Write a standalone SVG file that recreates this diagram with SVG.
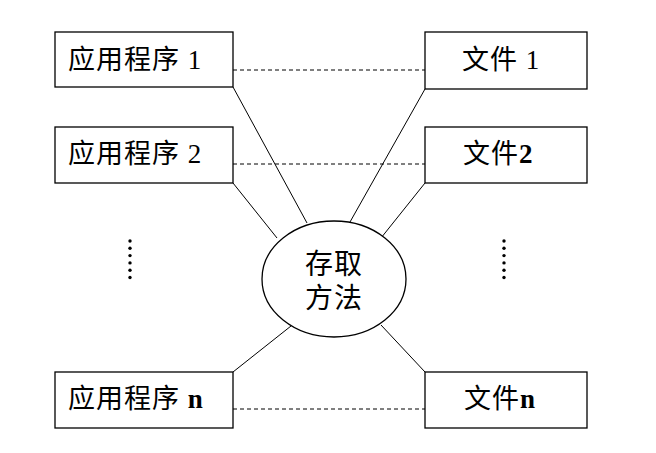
<svg xmlns="http://www.w3.org/2000/svg" width="656" height="453" viewBox="0 0 656 453">
<style>
.box{fill:#fff;stroke:#000;stroke-width:1.3}
.ln{stroke:#000;stroke-width:1;fill:none}
.dash{stroke:#000;stroke-width:1;stroke-dasharray:4 3;fill:none}
.t{font-family:"Liberation Serif","Noto Sans CJK SC",serif;font-size:27px;letter-spacing:1px;fill:#000}
.c{font-size:28px}
.b{font-weight:bold}
.dot{fill:#000}
</style>
<rect width="656" height="453" fill="#fff"/>
<g id="connectors">
<line class="dash" x1="233" y1="70" x2="425" y2="70"/>
<line class="dash" x1="233" y1="164" x2="425" y2="164"/>
<line class="dash" x1="233" y1="409" x2="425" y2="409"/>
<line class="ln" x1="233" y1="87" x2="307" y2="223"/>
<line class="ln" x1="233" y1="183" x2="277" y2="238"/>
<line class="ln" x1="425" y1="89" x2="350" y2="222"/>
<line class="ln" x1="425" y1="183" x2="381" y2="238"/>
<line class="ln" x1="233" y1="372" x2="291" y2="326"/>
<line class="ln" x1="425" y1="372" x2="381" y2="325"/>
</g>
<g id="app1"><rect class="box" x="55" y="32" width="178" height="55"/><text class="t" x="68" y="69">应用程序 1</text></g>
<g id="app2"><rect class="box" x="55" y="127" width="178" height="56"/><text class="t" x="68" y="163">应用程序 2</text></g>
<g id="appn"><rect class="box" x="55" y="372" width="178" height="56"/><text class="t" x="68" y="408">应用程序 <tspan class="b">n</tspan></text></g>
<g id="file1"><rect class="box" x="425" y="32" width="162" height="57"/><text class="t" x="462" y="69">文件 1</text></g>
<g id="file2"><rect class="box" x="425" y="127" width="162" height="56"/><text class="t" x="463" y="163">文件<tspan class="b">2</tspan></text></g>
<g id="filen"><rect class="box" x="425" y="372" width="162" height="56"/><text class="t" x="464" y="408">文件<tspan class="b">n</tspan></text></g>
<g id="access"><ellipse class="box" cx="334" cy="279" rx="72" ry="58"/>
<text class="t c" x="334" y="274" text-anchor="middle">存取</text>
<text class="t c" x="334" y="308" text-anchor="middle">方法</text></g>
<g id="dotsL">
<circle class="dot" cx="130" cy="241" r="1.7"/><circle class="dot" cx="130" cy="248.3" r="1.7"/><circle class="dot" cx="130" cy="255.6" r="1.7"/><circle class="dot" cx="130" cy="262.9" r="1.7"/><circle class="dot" cx="130" cy="270.2" r="1.7"/><circle class="dot" cx="130" cy="277.5" r="1.7"/>
</g>
<g id="dotsR">
<circle class="dot" cx="504" cy="241" r="1.7"/><circle class="dot" cx="504" cy="248.3" r="1.7"/><circle class="dot" cx="504" cy="255.6" r="1.7"/><circle class="dot" cx="504" cy="262.9" r="1.7"/><circle class="dot" cx="504" cy="270.2" r="1.7"/><circle class="dot" cx="504" cy="277.5" r="1.7"/>
</g>
</svg>
